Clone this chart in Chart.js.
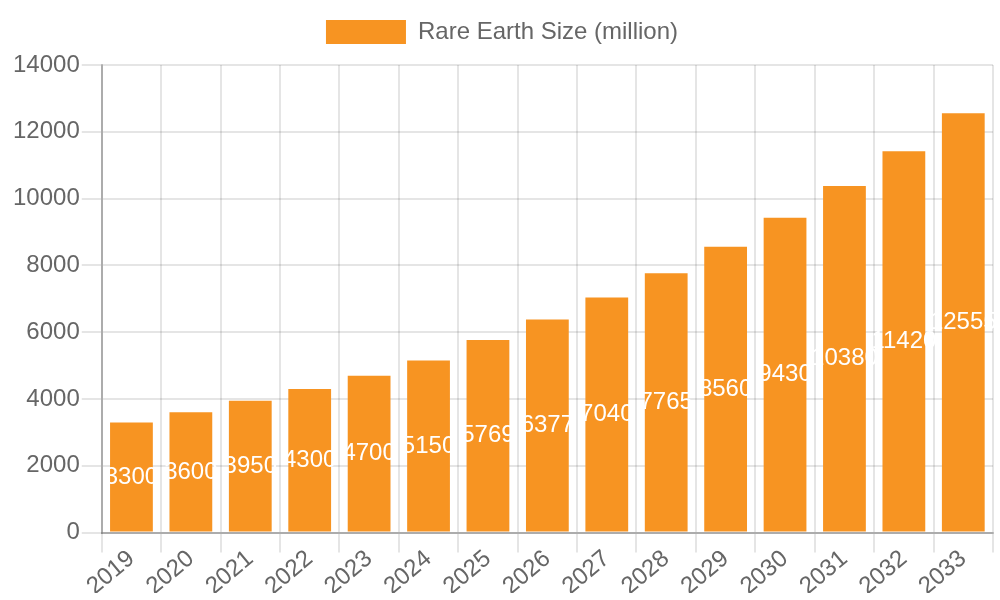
<!DOCTYPE html>
<html>
<head>
<meta charset="utf-8">
<script src="https://cdn.jsdelivr.net/npm/chart.js@4/dist/chart.umd.min.js"></script>
<style>
  html, body { margin: 0; padding: 0; background: #fff; }
  #wrap { width: 1000px; height: 600px; }
</style>
</head>
<body>
<div id="wrap"><canvas id="chart"></canvas></div>
<script>
// data
const years = ["2019", "2020", "2021", "2022", "2023", "2024", "2025", "2026", "2027", "2028", "2029", "2030", "2031", "2032", "2033"];
const sizes = [3300, 3600, 3950, 4300, 4700, 5150, 5769, 6377, 7040, 7765, 8560, 9430, 10380, 11420, 12555];
const seriesName = "Rare Earth Size (million)";

const ORANGE = "rgb(247, 148, 34)";

Chart.defaults.font.family = "'Liberation Sans', Arial, sans-serif";
Chart.defaults.font.size = 24;
Chart.defaults.color = "#666";

// white value text in the middle of each bar
const barLabels = {
    id: "barLabels",
    afterDatasetsDraw(chart) {
        const ctx = chart.ctx;
        const meta = chart.getDatasetMeta(0);
        ctx.save();
        ctx.fillStyle = "#fff";
        ctx.font = "24px 'Liberation Sans', Arial, sans-serif";
        ctx.textAlign = "center";
        ctx.textBaseline = "middle";
        meta.data.forEach((bar, i) => {
            ctx.fillText(sizes[i], bar.x, (bar.y + bar.base) / 2);
        });
        ctx.restore();
    }
};

// a bit more room under the legend
const legendGap = {
    id: "legendGap",
    beforeInit(chart) {
        const fit = chart.legend.fit;
        chart.legend.fit = function () {
            fit.bind(chart.legend)();
            this.height += 11;
        };
    }
};

new Chart(document.getElementById("chart"), {
    type: "bar",
    data: {
        labels: years,
        datasets: [{
            label: seriesName,
            data: sizes,
            backgroundColor: ORANGE,
            borderWidth: 0
        }]
    },
    options: {
        responsive: true,
        maintainAspectRatio: false,
        animation: false,
        layout: { padding: { top: 0, right: 7, left: 11, bottom: 7 } },
        plugins: {
            legend: {
                labels: { boxWidth: 80, boxHeight: 24, padding: 20 }
            },
            tooltip: { enabled: false }
        },
        scales: {
            x: {
                grid: { lineWidth: 2, tickLength: 20, color: "rgba(0,0,0,0.1)" },
                border: { width: 2, color: "rgba(0,0,0,0.25)" },
                ticks: { padding: -8, maxRotation: 40, minRotation: 40 }
            },
            y: {
                min: 0,
                max: 14000,
                grid: { lineWidth: 2, tickLength: 20, color: "rgba(0,0,0,0.1)" },
                border: { width: 2, color: "rgba(0,0,0,0.25)" },
                ticks: { stepSize: 2000, padding: 2, callback: v => String(v) }
            }
        }
    },
    plugins: [barLabels, legendGap]
});
</script>
</body>
</html>
